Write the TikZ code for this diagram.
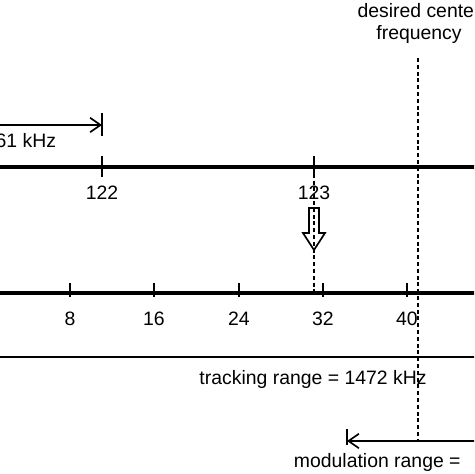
\documentclass[tikz,border=0pt]{standalone}
\usepackage{fontspec}
\setmainfont{Liberation Sans}
\usetikzlibrary{arrows.meta, calc}

\tikzset{
  axisline/.style={line width=3.5pt, black},
  tickmark/.style={line width=1.3pt, black},
  rangeline/.style={line width=1.2pt, black},
  rangearrow/.style={line width=1.2pt, black, -{Straight Barb[length=2.6mm, width=3.6mm, line width=1.2pt]}},
  dashline/.style={line width=1.2pt, black, dash pattern=on 1mm off 0.7mm},
}

\begin{document}
\begin{tikzpicture}[x=0.25mm, y=0.25mm, font=\fontsize{13.8}{16}\selectfont]
            \useasboundingbox (0,0) rectangle (474,474);
            \clip (0,0) rectangle (474,474);

            % the two frequency axes
            \coordinate (TopMin) at (-10,307);
            \coordinate (TopMax) at (484,307);
            \coordinate (BotMin) at (-10,181);
            \coordinate (BotMax) at (484,181);
            \draw [axisline] (TopMin) -- (TopMax);
            \draw [axisline] (BotMin) -- (BotMax);

            % coarse steps on the upper axis
            \draw [tickmark] (102,297) -- (102,318);
            \draw [tickmark] (314,297) -- (314,318);
            \node [anchor=base] (lab122) at (102,274) {122};
            \node [anchor=base] (lab123) at (314,274) {123};

            % fine steps on the lower axis
            \foreach \v/\x in {8/70,16/154,24/239,32/323,40/407} {
                \draw [tickmark] (\x,177) -- (\x,191);
                \node [anchor=base] (lab\v) at (\x,148) {\v};
            }

            % step size of the upper axis
            \coordinate (StepStart) at (-10,349);
            \coordinate (StepEnd)   at (102,349);
            \draw [rangearrow] (StepStart) -- (StepEnd);
            \draw [rangeline] (102,338) -- (102,361);
            \node [anchor=base east] (steplabel) at (61,326) {61 kHz};

            % from channel 123 down to the lower axis
            \coordinate (ChanTop) at (314,307);
            \coordinate (ChanBot) at (314,181);
            \draw [dashline] (ChanTop) -- (ChanBot);
            \draw [rangeline, line join=miter] (309,266) -- (309,241) -- (303,241) -- (314,224)
                  -- (325,241) -- (319,241) -- (319,266) -- cycle;

            % desired center frequency
            \node [anchor=base] (center1) at (419,456) {desired center};
            \node [anchor=base] (center2) at (419,434) {frequency};
            \coordinate (CenterTop) at (418,416);
            \coordinate (CenterBot) at (418,32);
            \draw [dashline] (CenterTop) -- (CenterBot);

            % tracking range
            \coordinate (TrackMin) at (-10,117);
            \coordinate (TrackMax) at (484,117);
            \draw [rangeline] (TrackMin) -- (TrackMax);
            \node [anchor=base] (tracklabel) at (313,89) {tracking range = 1472 kHz};

            % modulation range
            \coordinate (ModStart) at (484,33);
            \coordinate (ModEnd)   at (347,33);
            \draw [rangearrow] (ModStart) -- (ModEnd);
            \draw [rangeline] (347,29) -- (347,45);
            \node [anchor=base west] (modlabel) at (289,6) {modulation range =};
        \end{tikzpicture}
\end{document}
